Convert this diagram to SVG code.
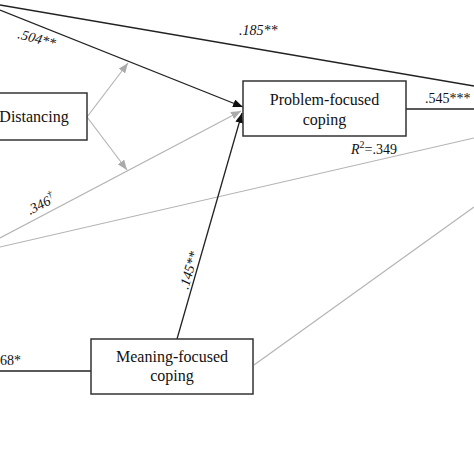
<svg xmlns="http://www.w3.org/2000/svg" width="474" height="474" viewBox="0 0 474 474">
<style>
.box{fill:#fff;stroke:#333;stroke-width:1.5}
.bt{font-family:"Liberation Serif",serif;font-size:16px;fill:#111;text-anchor:middle}
.lb{font-family:"Liberation Serif",serif;font-size:14px;fill:#111}
.it{font-style:italic}
.blk{stroke:#222;stroke-width:1.3;fill:none}
.gry{stroke:#b4b4b4;stroke-width:1.2;fill:none}
</style>
<defs>
<marker id="ab" viewBox="0 0 10 8" refX="10" refY="4" markerWidth="10" markerHeight="8" markerUnits="userSpaceOnUse" orient="auto"><path d="M0,0 L10,4 L0,8 Z" fill="#111"/></marker>
<marker id="ag" viewBox="0 0 10 8" refX="10" refY="4" markerWidth="10" markerHeight="8" markerUnits="userSpaceOnUse" orient="auto"><path d="M0,0 L10,4 L0,8 Z" fill="#aaa"/></marker>
</defs>
<rect width="474" height="474" fill="#fff"/>
<g id="connectors">
<line class="blk" x1="0" y1="5" x2="474" y2="86"/>
<line class="gry" x1="0" y1="247" x2="474" y2="138"/>
<line class="gry" x1="254" y1="365" x2="474" y2="207"/>
<line class="gry" x1="0" y1="238" x2="241" y2="111" marker-end="url(#ag)"/>
<line class="gry" x1="87" y1="117" x2="128" y2="63" marker-end="url(#ag)"/>
<line class="gry" x1="87" y1="117" x2="127" y2="170" marker-end="url(#ag)"/>
<line class="blk" x1="0" y1="10" x2="243" y2="107" marker-end="url(#ab)"/>
<line class="blk" x1="177" y1="339" x2="242" y2="113" marker-end="url(#ab)"/>
<line class="blk" x1="406" y1="109" x2="474" y2="109"/>
<line class="blk" x1="0" y1="371" x2="91" y2="371"/>
<text class="lb it" x="239" y="35">.185**</text>
<text class="lb it" transform="translate(17,38) rotate(15)">.504**</text>
<text class="lb it" transform="translate(30,215) rotate(-27)">.346<tspan font-size="10" dy="-6">†</tspan></text>
<text class="lb it" transform="translate(188,290) rotate(-74)">.145**</text>
<text class="lb" x="425" y="103" font-size="15">.545***</text>
<text class="lb" x="0" y="365" font-size="15">68*</text>
</g>
<g id="distancing">
<rect class="box" x="-10" y="93" width="97" height="47"/>
<text class="bt" x="34" y="122">Distancing</text>
</g>
<g id="problem-focused">
<rect class="box" x="243" y="81" width="163" height="55"/>
<text class="bt" x="324.500" y="105">Problem-focused</text>
<text class="bt" x="324.500" y="125">coping</text>
<text class="lb" x="351" y="154" font-size="16"><tspan font-style="italic">R</tspan><tspan font-size="10" dy="-6">2</tspan><tspan dy="6">=.349</tspan></text>
</g>
<g id="meaning-focused">
<rect class="box" x="91" y="339" width="162" height="55"/>
<text class="bt" x="172" y="362">Meaning-focused</text>
<text class="bt" x="172" y="381">coping</text>
</g>
</svg>
